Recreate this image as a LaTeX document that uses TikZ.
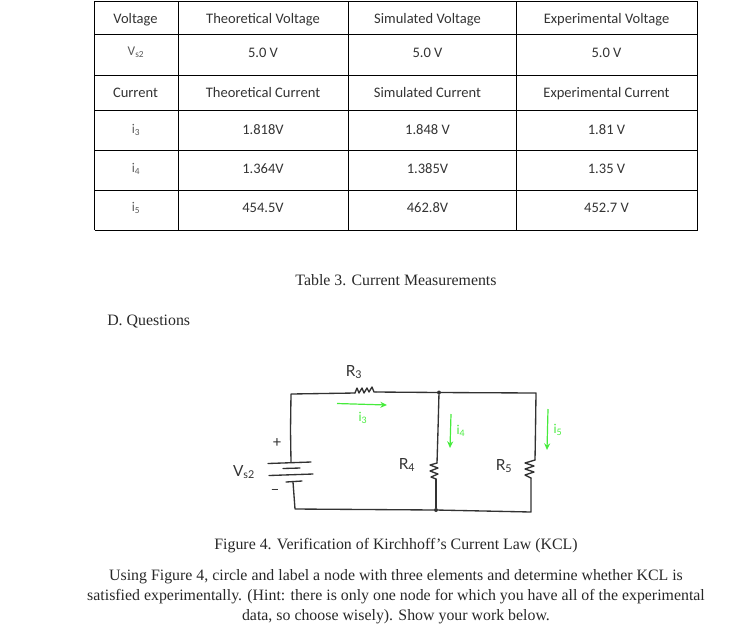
\documentclass[tikz,border=0pt]{standalone}
\usepackage{fontspec}
\setmainfont{Liberation Serif}
\newfontfamily\tablefont{Carlito}
\newfontfamily\handfont{Lato}
\definecolor{handgreen}{RGB}{70,235,60}
\definecolor{inkgray}{RGB}{50,50,50}
\definecolor{bodytext}{RGB}{40,40,40}
\usetikzlibrary{arrows.meta}
\tikzset{
  tcell/.style={font=\tablefont\fontsize{10.9}{12}\selectfont,text=black!80,inner sep=0pt,anchor=center,text height=7.5pt,text depth=2.5pt,yshift=-1.3pt},
  tsmall/.style={font=\tablefont\fontsize{10}{11}\selectfont,text=black!65,inner sep=0pt,anchor=center},
  body/.style={font=\fontsize{11.9}{14}\selectfont,text=bodytext,inner sep=0pt,anchor=center,text height=8pt,text depth=2.5pt,yshift=-0.4pt},
  gridline/.style={line width=0.75pt,black},
  wire/.style={line width=1pt,inkgray,line join=round,line cap=round},
  hand/.style={font=\handfont\fontsize{11.5}{14}\selectfont,text=inkgray,inner sep=0pt,anchor=center},
  handg/.style={font=\handfont\fontsize{9.5}{11}\selectfont,text=handgreen,inner sep=0pt,anchor=center},
  current/.style={line width=0.9pt,handgreen,-{Stealth[length=5pt,width=4.5pt]}},
  junction/.style={circle,fill=inkgray,inner sep=0pt,minimum size=3pt}
}
\begin{document}
\begin{tikzpicture}[x=0.75pt,y=-0.75pt]
\useasboundingbox (0,0) rectangle (738,626);
% table grid
\foreach \yy in {1,34,75,110,150,190,230}
  \draw[gridline] (94.5,\yy) -- (697.5,\yy);
\foreach \xx in {94.5,178.5,348,516,697.5}
  \draw[gridline] (\xx,1) -- (\xx,230);
% table text
\node[tcell] (h1) at (135.5,18.5) {Voltage};
\node[tcell] (h2) at (263,18.5) {Theoretical Voltage};
\node[tcell] (h3) at (427.5,18.5) {Simulated Voltage};
\node[tcell] (h4) at (606.5,18.5) {Experimental Voltage};
\node[tsmall] (v1) at (136,52.5) {V\textsubscript{s2}};
\node[tcell] (v2) at (263,52.5) {5.0 V};
\node[tcell] (v3) at (427.5,52.5) {5.0 V};
\node[tcell] (v4) at (606.5,52.5) {5.0 V};
\node[tcell] (c1) at (135.5,92.5) {Current};
\node[tcell] (c2) at (263,92.5) {Theoretical Current};
\node[tcell] (c3) at (427.5,92.5) {Simulated Current};
\node[tcell] (c4) at (606.5,92.5) {Experimental Current};
\node[tsmall] (a1) at (136,130) {i\textsubscript{3}};
\node[tcell] (a2) at (263,129.5) {1.818V};
\node[tcell] (a3) at (427.5,129.5) {1.848 V};
\node[tcell] (a4) at (606.5,129.5) {1.81 V};
\node[tsmall] (b1) at (136,169) {i\textsubscript{4}};
\node[tcell] (b2) at (263,168.5) {1.364V};
\node[tcell] (b3) at (427.5,168.5) {1.385V};
\node[tcell] (b4) at (606.5,168.5) {1.35 V};
\node[tsmall] (d1) at (136,208) {i\textsubscript{5}};
\node[tcell] (d2) at (263,207.5) {454.5V};
\node[tcell] (d3) at (427.5,207.5) {462.8V};
\node[tcell] (d4) at (606.5,207.5) {452.7 V};
% body text
\node[body] (tabcap) at (396,281.5) {Table 3. Current Measurements};
\node[body,anchor=west] (dq) at (107,321.5) {D. Questions};
\node[body] (figcap) at (396,545.5) {Figure 4. Verification of Kirchhoff’s Current Law (KCL)};
\node[body] (l1) at (396,576.5) {Using Figure 4, circle and label a node with three elements and determine whether KCL is};
\node[body] (l2) at (396,596.5) {satisfied experimentally. (Hint: there is only one node for which you have all of the experimental};
\node[body] (l3) at (396,616.5) {data, so choose wisely). Show your work below.};
% circuit nodes
\node[junction] (nt) at (439,392.5) {};
\node[junction] (nb) at (436,510) {};
\coordinate (tl) at (291,394);
\coordinate (tr) at (536,393);
\coordinate (bl) at (295,509);
\coordinate (br) at (531,512);
\coordinate (r3a) at (355,393);
\coordinate (r3b) at (376,392);
\coordinate (r4a) at (437,463);
\coordinate (r4b) at (436,479);
\coordinate (r5a) at (535,460);
\coordinate (r5b) at (531,478);
\coordinate (bt) at (291,462);
\coordinate (bb) at (293,482);
% wires
\draw[wire] (bt) -- (290.5,430) -- (tl) -- (r3a);
\draw[wire] (r3a) -- (357,388) -- (359,393) -- (362,388) -- (364,393) -- (367,388) -- (369,392) -- (372,387) -- (374,392) -- (r3b);
\draw[wire] (r3b) -- (nt) -- (tr) -- (535.5,430) -- (r5a);
\draw[wire] (nt) -- (438,430) -- (r4a);
\draw[wire] (r4a) -- (430,465) -- (438,468) -- (430,471) -- (438,474) -- (431,477) -- (r4b);
\draw[wire] (r4b) -- (nb);
\draw[wire] (r5a) -- (525,463) -- (534,466) -- (525,469) -- (534,472) -- (525,475) -- (r5b);
\draw[wire] (r5b) -- (br) -- (nb) -- (bl) -- (bb);
% battery
\draw[wire] (268,463.5) -- (311,462);
\draw[wire] (283,468.5) -- (300,468);
\draw[wire] (269,475.5) -- (313,474);
\draw[wire] (286,482) -- (302,481);
% hand labels
\node[hand] (plus) at (277,443) {+};
\node[hand] (minus) at (275,492) {–};
\node[hand] (lvs) at (244,472) {V\textsubscript{s2}};
\node[hand] (lr3) at (354,372) {R\textsubscript{3}};
\node[hand] (lr4) at (407,465) {R\textsubscript{4}};
\node[hand] (lr5) at (504,466) {R\textsubscript{5}};
% currents
\coordinate (i3a) at (337,403.5);
\coordinate (i3b) at (387,405);
\coordinate (i4a) at (451,414);
\coordinate (i4b) at (450,448);
\coordinate (i5a) at (548,409);
\coordinate (i5b) at (547,450);
\draw[current] (i3a) -- (i3b);
\draw[current] (i4a) -- (i4b);
\draw[current] (i5a) -- (i5b);
\node[handg] (li3) at (363,418) {i\textsubscript{3}};
\node[handg] (li4) at (461,431) {i\textsubscript{4}};
\node[handg] (li5) at (558,430) {i\textsubscript{5}};
\end{tikzpicture}
\end{document}
